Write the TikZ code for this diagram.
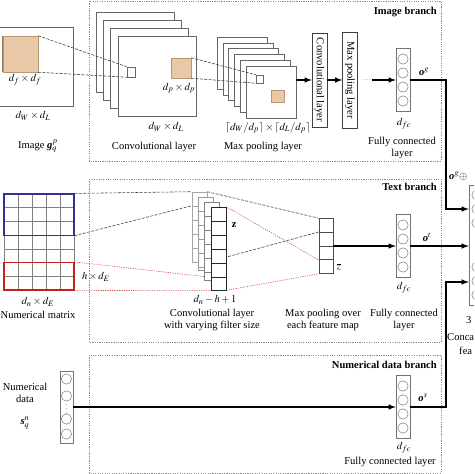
\documentclass[tikz,border=0pt]{standalone}
\usepackage{mathptmx}
\usepackage{fontspec}
\setmainfont{Liberation Serif}
\usetikzlibrary{arrows, positioning, calc}
\definecolor{patch}{RGB}{232,200,166}
\definecolor{patchedge}{RGB}{185,150,115}
\definecolor{winblue}{RGB}{50,50,150}
\definecolor{winred}{RGB}{200,30,30}
\newcommand{\pxl}{0.03cm}
\newcommand{\bv}[1]{\mbox{\bfseries\itshape #1}}
\tikzstyle{branch} = [draw=black!45, dash pattern=on 1pt off 1pt]
\tikzstyle{title} = [font=\fontsize{9}{10.2}\selectfont\bfseries, anchor=east, inner sep=0pt]
\tikzstyle{lbl} = [font=\fontsize{9}{10.2}\selectfont, align=center, inner sep=0pt]
\tikzstyle{fmap} = [draw=black!60, fill=white, line width=0.4pt, inner sep=0pt]
\tikzstyle{patchbox} = [draw=patchedge, fill=patch, line width=0.4pt, inner sep=0pt]
\tikzstyle{win} = [line width=1pt, minimum width=70*\pxl, inner sep=0pt]
\tikzstyle{gridline} = [draw=black!50, line width=0.4pt]
\tikzstyle{colbox} = [fill=white, line width=0.5pt, minimum width=15*\pxl, inner sep=0pt]
\tikzstyle{link} = [black!75, dash pattern=on 2.5pt off 1.2pt, line width=0.5pt]
\tikzstyle{redlink} = [winred!80, dash pattern=on 1pt off 1pt, line width=0.5pt]
\tikzstyle{neuron} = [draw=black!55, line width=0.4pt]
\tikzstyle{fc} = [rectangle, draw=black!55, fill=white, minimum width=14*\pxl, minimum height=63*\pxl, inner sep=0pt]
\tikzstyle{layerbox} = [rectangle, draw=black!75, fill=white, rotate=-90, minimum height=15*\pxl, inner sep=1pt, font=\fontsize{9}{10.2}\selectfont]
\tikzstyle{arrow} = [line width=1.1pt, ->, >=latex]
\pgfdeclarelayer{background}
\pgfsetlayers{background,main}
\begin{document}
\begin{tikzpicture}[x=0.03cm, y=-0.03cm]
    \useasboundingbox (0,0) rectangle (474,474);
    \clip (0,0) rectangle (474,474);

    % branch frames
    \draw[branch] (89,1) rectangle (441,161);
    \draw[branch] (89,179) rectangle (441,342);
    \draw[branch] (89,355) rectangle (441,473);
    \node[title] (imgtitle) at (437,12) {Image branch};
    \node[title] (txttitle) at (437,187) {Text branch};
    \node[title] (numtitle) at (437,365) {Numerical data branch};

    % image branch
    \node[fmap, minimum width=75*\pxl, minimum height=79*\pxl] (img) at (35.5,66.5) {};
    \node[patchbox, minimum width=35*\pxl, minimum height=36*\pxl] (patchimg) at (20.5,54) {};
    \draw[patchedge!80!black, line width=1pt] (patchimg.north west) -- (patchimg.south west);
    \foreach \k in {0,1,2}
      \draw[fmap] (96+7.3*\k,12+8*\k) rectangle ++(78,80);
    \node[fmap, minimum width=78*\pxl, minimum height=80*\pxl] (convfront) at (157,76) {};
    \node[fmap, minimum width=8*\pxl, minimum height=10*\pxl] (convwin) at (131,72) {};
    \node[patchbox, minimum width=20*\pxl, minimum height=20*\pxl] (convpatch) at (181,68) {};
    \foreach \k in {0,...,4}
      \draw[fmap] (217+5.8*\k,37+5.8*\k) rectangle ++(50,52);
    \node[fmap, minimum width=50*\pxl, minimum height=52*\pxl] (poolfront) at (271,92) {};
    \node[fmap, minimum width=7*\pxl, minimum height=8*\pxl] (poolwin) at (259.5,79) {};
    \node[patchbox, minimum width=13*\pxl, minimum height=12*\pxl] (poolpatch) at (277.5,96.5) {};
    \draw[link] (patchimg.north east) -- (convwin.north west);
    \draw[link] (patchimg.south east) -- (convwin.south west);
    \draw[link] (convpatch.north east) -- (poolwin.north west);
    \draw[link] (convpatch.south east) -- (poolwin.south west);

    \node[lbl] at (25,80) {$d_f\times d_f$};
    \node[lbl] at (33,116) {$d_W\times d_L$};
    \node[lbl] at (38,146) {Image $\bv{g}_q^p$};
    \node[lbl] at (179,88) {$d_p\times d_p$};
    \node[lbl] at (166,127) {$d_W\times d_L$};
    \node[lbl] at (154,147) {Convolutional layer};
    \node[lbl] at (268,128) {$\lceil d_W/d_p\rceil\times\lceil d_L/d_p\rceil$};
    \node[lbl] at (263,147) {Max pooling layer};

    \node[layerbox, minimum width=94*\pxl] (convlyr) at (319.5,80) {Convolutional layer};
    \node[layerbox, minimum width=96*\pxl] (poollyr) at (350,80) {Max pooling layer};
    \node[lbl, text=black!45, font=\tiny] (more) at (367,80) {......};
    \node[fc] (fcimg) at (403,80) {};
    \foreach \dy in {-21,-7,7,21}
      \draw[neuron] ($(fcimg)+(0,\dy)$) circle [radius=4.4pt];
    \node[lbl] at (404,124) {$d_{fc}$};
    \node[lbl] at (402,148) {Fully connected\\layer};
    \node[lbl] at (424,72) {$\bv{o}^g$};

    \draw[arrow] (poolfront.east |- convlyr) -- (convlyr);
    \draw[arrow] (convlyr) -- (poollyr);
    \draw[arrow] (more) -- (fcimg);

    % text branch
    \foreach \r in {1,...,6}
      \draw[gridline] (4,194+13.7*\r) -- (74,194+13.7*\r);
    \foreach \c in {1,...,4}
      \draw[gridline] (4+14*\c,194) -- (4+14*\c,290);
    \draw[gridline] (4,194) rectangle (74,290);
    \node[win, draw=winblue, minimum height=41.1*\pxl] (winb) at (39,214.55) {};
    \node[win, draw=winred, minimum height=27.5*\pxl] (winr) at (39,276.25) {};

    \foreach \n/\x/\t/\b/\c in {1/192/192/262/black!35, 2/198.3/197/270/black!40, 3/204.6/202/280/black!50, 4/211/207/290/black!85} {
      \node[colbox, draw=\c, minimum height={(\b-\t)*\pxl}] (col\n) at (\x+7.5,{(\t+\b)/2}) {};
      \foreach \i in {1,...,5}
        \draw[draw=\c, line width=0.5pt] (\x,\t+14*\i) -- ++(15,0);
    }
    \node[colbox, draw=black!70, minimum width=14*\pxl, minimum height=55*\pxl] (zpool) at (326,246) {};
    \foreach \i in {1,2,3}
      \draw[draw=black!70, line width=0.5pt] (319,218.5+13.75*\i) -- ++(14,0);

    \begin{pgfonlayer}{background}
      \draw[link] (winb.north east) -- (col1.north west);
      \draw[link] (winb.south east) -- ($(col1.north west)+(0,14)$);
      \draw[redlink] (winr.north east) -- ($(col4.south west)+(0,-13)$);
      \draw[redlink] (winr.south east) -- (col4.south west);
      \draw[link] (col1.north east) -- (zpool.north west);
      \draw[link] (col1.south east) -- ($(zpool.north west)+(0,13.75)$);
      \draw[redlink] (col4.north east) -- ($(zpool.south west)+(0,-13.75)$);
      \draw[redlink] (col4.south east) -- (zpool.south west);
    \end{pgfonlayer}

    \node[lbl] at (234,225) {$\mathbf{z}$};
    \node[lbl] at (339,267) {$\overline{z}$};
    \node[lbl] at (96,277) {$h\times d_E$};
    \node[lbl] at (38,302) {$d_n\times d_E$};
    \node[lbl] at (38,315) {Numerical matrix};
    \node[lbl] at (215,300) {$d_n-h+1$};
    \node[lbl] at (212,320) {Convolutional layer\\with varying filter size};
    \node[lbl] at (323,320) {Max pooling over\\each feature map};
    \node[lbl] at (404,320) {Fully connected\\layer};

    \node[fc] (fctxt) at (403,246) {};
    \foreach \dy in {-21,-7,7,21}
      \draw[neuron] ($(fctxt)+(0,\dy)$) circle [radius=4.4pt];
    \node[lbl] at (404,288) {$d_{fc}$};
    \node[lbl] at (427,237) {$\bv{o}^t$};
    \draw[arrow] (zpool) -- (fctxt);

    % concatenated features
    \node[fc, minimum width=24*\pxl, minimum height=120*\pxl] (concat) at (481,245) {};
    \foreach \y in {195,209,223,267,281,295}
      \draw[neuron] (477,\y) circle [radius=4.4pt];
    \node[lbl, anchor=west] at (449,176) {$\bv{o}^g\oplus$};
    \node[lbl, anchor=west] at (466,320) {3};
    \node[lbl, anchor=west] at (447,337) {Conca};
    \node[lbl, anchor=west] at (459,351) {fea};

    % numerical data branch
    \node[fc, minimum width=13*\pxl, minimum height=72*\pxl] (innum) at (66.5,407) {};
    \foreach \dy in {-28,-11,12,27}
      \draw[neuron] ($(innum)+(0,\dy)$) circle [radius=4.4pt];
    \node[lbl, font=\tiny] at (66.5,406) {$\vdots$};
    \node[lbl] at (25,393) {Numerical\\data};
    \node[lbl] at (25,423) {$\bv{s}_q^n$};
    \node[fc] (fcnum) at (403,407) {};
    \foreach \dy in {-21,-7,7,21}
      \draw[neuron] ($(fcnum)+(0,\dy)$) circle [radius=4.4pt];
    \node[lbl] at (404,448) {$d_{fc}$};
    \node[lbl] at (390,462) {Fully connected layer};
    \node[lbl] at (423,398) {$\bv{o}^s$};
    \draw[arrow] (innum) -- (fcnum);

    % feeds into the concatenation
    \coordinate (gturn) at (446,209);
    \coordinate (sturn) at (446,282);
    \draw[arrow] (fcimg.east) -- (fcimg.east -| gturn) -- (gturn) -- (gturn -| concat.west);
    \draw[arrow] (fctxt.east) -- (fctxt.east -| concat.west);
    \draw[arrow] (fcnum.east) -- (fcnum.east -| sturn) -- (sturn) -- (sturn -| concat.west);
\end{tikzpicture}
\end{document}
